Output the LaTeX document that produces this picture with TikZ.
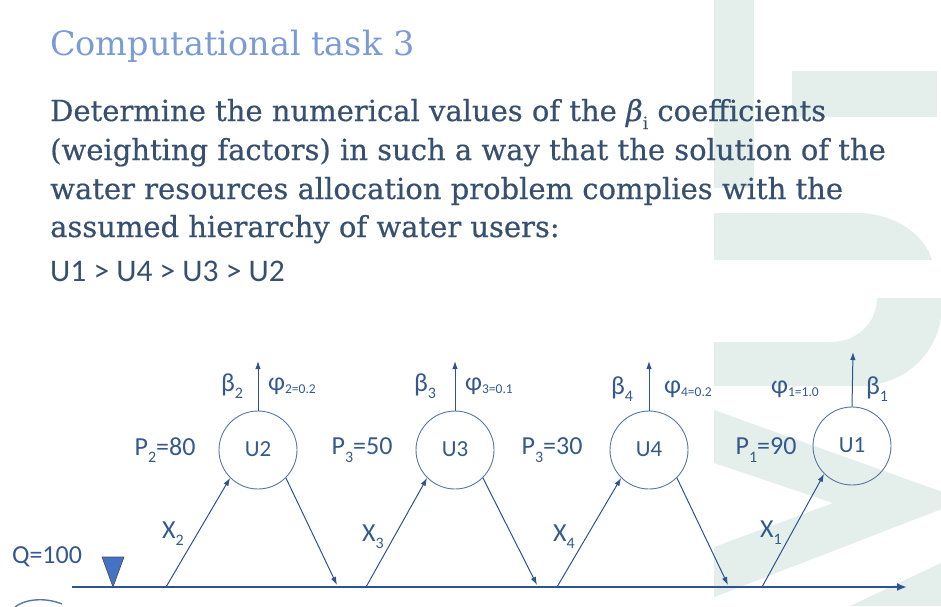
\documentclass[tikz,border=0pt]{standalone}
\usepackage{fontspec}
\setmainfont{DejaVu Serif}
\newfontfamily\bodyfont[FakeBold=0.5]{DejaVu Serif}
\newfontfamily\diag{Carlito}
\usetikzlibrary{arrows.meta}
\definecolor{wm}{HTML}{E4EEEB}
\definecolor{titleblue}{HTML}{7B9BD4}
\definecolor{bodyblue}{HTML}{38506F}
\definecolor{lblblue}{HTML}{34598C}
\definecolor{lineblue}{HTML}{2F5391}
\definecolor{circblue}{HTML}{5676A3}
\definecolor{trifill}{HTML}{4472C4}
\newcommand{\lsub}[2][16]{\raisebox{-0.28em}{\fontsize{#1}{#1}\selectfont #2}}
\newcommand{\psub}[1]{\raisebox{-0.12em}{\fontsize{13.5}{13.5}\selectfont #1}}
\tikzset{
  wmshape/.style={fill=wm, draw=none},
  bodytext/.style={anchor=base west, inner sep=0pt, text=bodyblue, font=\bodyfont\fontsize{29}{36}\selectfont},
  lbl/.style={inner sep=0pt, text=lblblue, font=\diag\fontsize{26}{30}\selectfont},
  ucirc/.style={circle, draw=circblue, line width=0.9pt, minimum size=78pt, inner sep=0pt, text=lblblue, font=\diag\fontsize{23}{26}\selectfont},
  flow/.style={draw=lineblue, line width=1pt, -{Latex[length=8pt,width=5.5pt]}},
  river/.style={draw=lineblue, line width=2.6pt, -{Latex[length=10pt,width=8pt]}}
}
\begin{document}
\begin{tikzpicture}[x=1pt,y=-1pt]
\path[use as bounding box] (0,0) rectangle (941,606);
% watermark
\begin{scope}
\clip (0,0) rectangle (941,606);
\fill[wmshape] (714,0) rectangle (754,188);
\fill[wmshape] (792,71) rectangle (937,117);
\fill[wmshape] (714,213) -- (857,213) .. controls (895,213) and (925,235) .. (932,260) -- (714,260) -- cycle;
\fill[wmshape] (714,342) -- (830,342) .. controls (860,342) and (877,320) .. (877,298) -- (941,298) -- (941,318) .. controls (935,355) and (905,385) .. (860,386) -- (714,386) -- cycle;
\fill[wmshape] (714,410) -- (965,500) -- (714,597) -- (714,547) -- (833,503) -- (714,463) -- cycle;
\fill[wmshape] (941,563) -- (850,606) -- (941,606) -- cycle;
\end{scope}
% texts
\node[anchor=base west, inner sep=0pt, text=titleblue, font=\fontsize{33.5}{38}\selectfont] (title) at (50,55) {Computational task 3};
\node[bodytext] (l1) at (50,121) {Determine the numerical values of the \textit{β}\lsub[17]{i} coefficients};
\node[bodytext] (l2) at (50,160) {(weighting factors) in such a way that the solution of the};
\node[bodytext] (l3) at (50,199) {water resources allocation problem complies with the};
\node[bodytext] (l4) at (50,237) {assumed hierarchy of water users:};
\node[anchor=base west, inner sep=0pt, text=bodyblue, font=\diag\fontsize{31.5}{34}\selectfont] (hier) at (50,281) {U1 > U4 > U3 > U2};
% river
\coordinate (bstart) at (72,587);
\coordinate (bend) at (907,587);
\draw[river] (bstart) -- (bend);
\draw[draw=black!70, fill=trifill, line width=0.6pt] (102,557) -- (124,557) -- (113,587) -- cycle;
\node[lbl] (q) at (47,557) {Q=100};
% users
\node[ucirc] (u2) at (258,450) {\raisebox{2pt}{U2}};
\node[ucirc] (u3) at (455,450) {\raisebox{2pt}{U3}};
\node[ucirc] (u4) at (649,450) {\raisebox{2pt}{U4}};
\node[ucirc] (u1) at (852,446) {\raisebox{2pt}{U1}};
% up arrows
\coordinate (t2) at (258,361);
\coordinate (t3) at (455,361);
\coordinate (t4) at (649,361);
\coordinate (t1) at (853,352);
\draw[flow] (u2.north) -- (t2);
\draw[flow] (u3.north) -- (t3);
\draw[flow] (u4.north) -- (t4);
\draw[flow] (u1.north) -- (t1);
% withdrawals and returns
\coordinate (w2) at (166,587);
\coordinate (r2) at (337,585);
\coordinate (w3) at (366,587);
\coordinate (r3) at (537,585);
\coordinate (w4) at (557,587);
\coordinate (r4) at (728,585);
\coordinate (w1) at (762,587);
\draw[flow] (w2) -- (u2.225);
\draw[flow] (u2.-45) -- (r2);
\draw[flow] (w3) -- (u3.225);
\draw[flow] (u3.-45) -- (r3);
\draw[flow] (w4) -- (u4.225);
\draw[flow] (u4.-45) -- (r4);
\draw[flow] (w1) -- (u1.225);
% labels
\node[lbl] (b2) at (232,386) {β\lsub{2}};
\node[lbl, anchor=west] (f2) at (268,386) {φ\psub{2=0.2}};
\node[lbl] (b3) at (425,386) {β\lsub{3}};
\node[lbl, anchor=west] (f3) at (465,386) {φ\psub{3=0.1}};
\node[lbl] (b4) at (622,389) {β\lsub{4}};
\node[lbl, anchor=west] (f4) at (664,389) {φ\psub{4=0.2}};
\node[lbl, anchor=west] (f1) at (771,389) {φ\psub{1=1.0}};
\node[lbl] (b1) at (877,389) {β\lsub{1}};
\node[lbl] (p2) at (165,450) {P\lsub{2}=80};
\node[lbl] (p3) at (362,450) {P\lsub{3}=50};
\node[lbl] (p4) at (552,450) {P\lsub{3}=30};
\node[lbl] (p1) at (766,450) {P\lsub{1}=90};
\node[lbl] (x2) at (173,534) {X\lsub{2}};
\node[lbl] (x3) at (373,537) {X\lsub{3}};
\node[lbl] (x4) at (564,537) {X\lsub{4}};
\node[lbl] (x1) at (771,533) {X\lsub{1}};
% partial footer curve
\draw[draw=lineblue!80, line width=1.4pt] (15,607) .. controls (25,599) and (45,597) .. (62,604);
\end{tikzpicture}
\end{document}
